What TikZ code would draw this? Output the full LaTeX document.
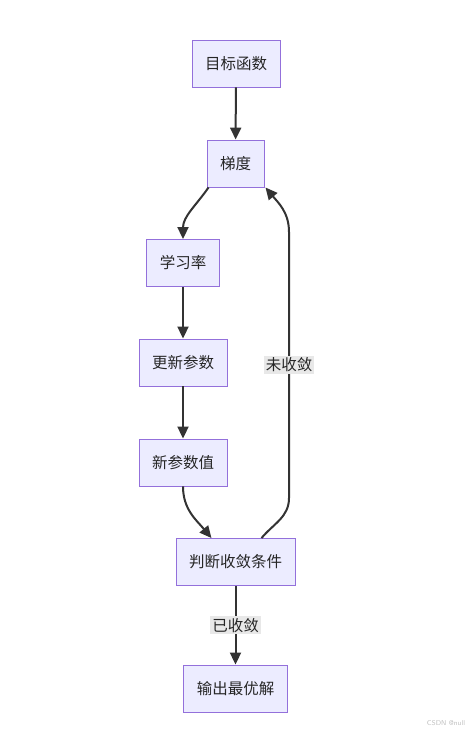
\documentclass[tikz,border=0pt]{standalone}
\usepackage{fontspec}
\newfontfamily\cjk{Noto Sans CJK SC}
\usepackage{xcolor}
\usetikzlibrary{arrows.meta}
\definecolor{boxfill}{HTML}{ECECFF}
\definecolor{boxline}{HTML}{9370DB}
\definecolor{edgecol}{HTML}{333333}
\definecolor{lblfill}{HTML}{E8E8E8}
\tikzset{
  stepbox/.style={draw=boxline, fill=boxfill, line width=0.9pt,
    minimum height=47pt, inner xsep=13pt, font=\cjk\fontsize{15.5}{18}\selectfont,
    text=black!85},
  flow/.style={draw=edgecol, line width=2pt,
    -{Triangle[length=12pt,width=11pt]}},
  edgelbl/.style={fill=lblfill, inner sep=2pt, font=\cjk\fontsize{15.5}{18}\selectfont,
    text=black!85}
}

\begin{document}
\begin{tikzpicture}[x=1pt,y=-1pt]
\useasboundingbox (0,0) rectangle (474,733);

% nodes
\node[stepbox] (obj) at (236,63.5) {目标函数};
\node[stepbox] (grad) at (235.5,163.5) {梯度};
\node[stepbox] (lr) at (183,263) {学习率};
\node[stepbox] (upd) at (183,362.5) {更新参数};
\node[stepbox] (newp) at (183,462.5) {新参数值};
\node[stepbox] (check) at (235.5,562) {判断收敛条件};
\node[stepbox] (out) at (235.5,688.5) {输出最优解};

% loop back
\coordinate (loopB) at (289,498);
\coordinate (loopT) at (289,232);

% edges
\draw[flow] (obj) -- (grad);
\draw[flow] ([xshift=2pt]grad.south west) to[out=-125,in=90] (lr.north);
\draw[flow] (lr) -- (upd);
\draw[flow] (upd) -- (newp);
\draw[flow] (newp.south) to[out=-90,in=130] ([xshift=-24pt]check.north);
\draw[flow] (check) -- (out) node[midway, edgelbl] (conv) {已收敛};
\draw[flow] ([xshift=26pt]check.north) to[out=50,in=-90] (loopB)
  -- (loopT) node[midway, edgelbl] (nconv) {未收敛}
  to[out=90,in=-50] ([xshift=1pt]grad.south east);

\node[text=black!25, font=\sffamily\fontsize{7}{8}\selectfont] (mark) at (446,723) {CSDN @null};
\end{tikzpicture}
\end{document}
